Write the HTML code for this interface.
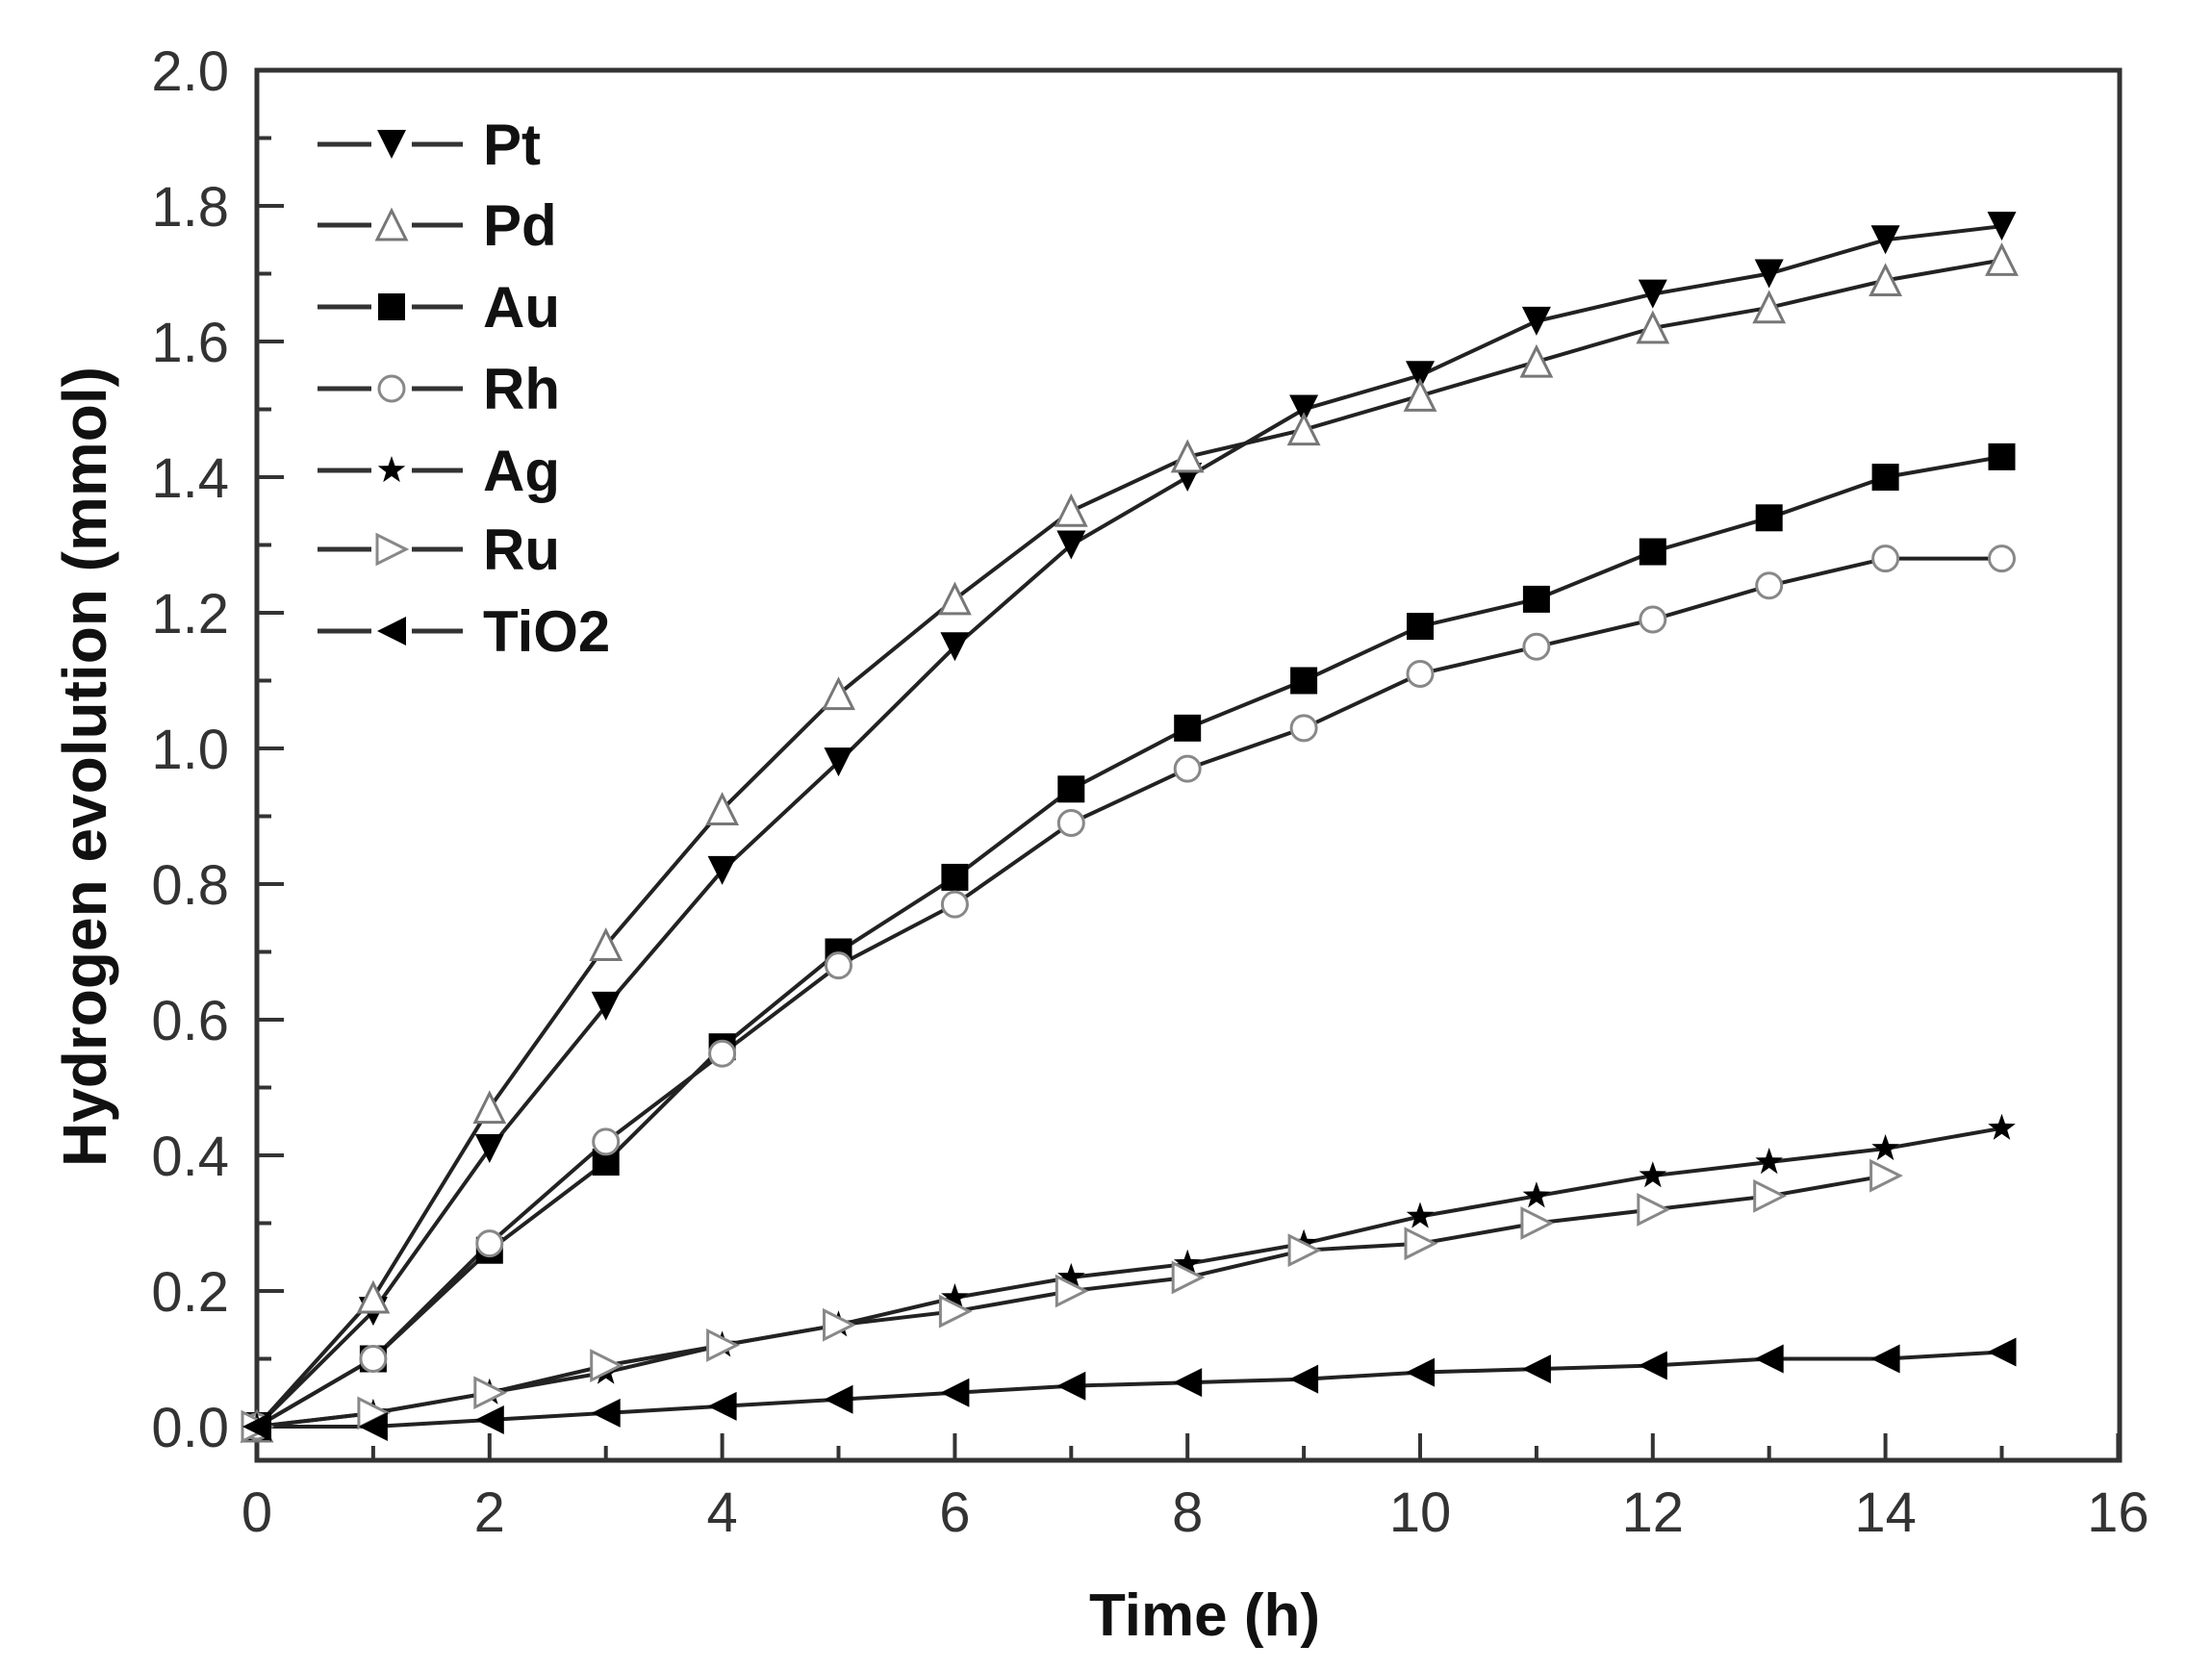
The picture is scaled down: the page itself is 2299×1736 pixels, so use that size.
<!DOCTYPE html>
<html><head><meta charset="utf-8"><style>
html,body{margin:0;padding:0;background:#fff;width:2299px;height:1736px;overflow:hidden}
svg{display:block}
</style></head><body>
<svg id="s" width="2299" height="1736" xmlns="http://www.w3.org/2000/svg" font-family="Liberation Sans, Arial, sans-serif">
<rect width="2299" height="1736" fill="#fff"/>
</svg>
<script>
const s=document.getElementById('s');const NS='http://www.w3.org/2000/svg';
function el(t,a,txt){const e=document.createElementNS(NS,t);for(const k in a)e.setAttribute(k,a[k]);if(txt!==undefined)e.textContent=txt;s.appendChild(e);return e;}
const X0=267,PX=120.9,Y0=1483,PY=705,TOP=73,BOT=1518,RIGHT=2203;
const X=v=>X0+v*PX,Y=v=>Y0-v*PY;
el('rect',{x:X0,y:TOP,width:RIGHT-X0,height:BOT-TOP,fill:'none',stroke:'#333',"stroke-width":5});
for(let i=0;i<=16;i++){const L=i%2==0?28:15;el('line',{x1:X(i),y1:BOT,x2:X(i),y2:BOT-L,stroke:'#333',"stroke-width":4});
 if(i%2==0)el('text',{x:X(i),y:1592,"font-size":58,"text-anchor":"middle",fill:'#333'},String(i));}
for(let i=0;i<=20;i++){const v=i*0.1;const L=i%2==0?28:15;el('line',{x1:X0,y1:Y(v),x2:X0+L,y2:Y(v),stroke:'#333',"stroke-width":4});
 if(i%2==0)el('text',{x:238,y:Y(v)+21,"font-size":58,"text-anchor":"end",fill:'#333'},v.toFixed(1));}
el('text',{x:1252,y:1700,"font-size":62,"font-weight":"bold","text-anchor":"middle",fill:'#111'},'Time (h)');
el('text',{transform:'translate(110,797) rotate(-90)',"font-size":64,"font-weight":"bold","text-anchor":"middle",fill:'#111'},'Hydrogen evolution (mmol)');
const D={
Pt:[0,0.17,0.41,0.62,0.82,0.98,1.15,1.30,1.40,1.50,1.55,1.63,1.67,1.70,1.75,1.77],
Pd:[0,0.19,0.47,0.71,0.91,1.08,1.22,1.35,1.43,1.47,1.52,1.57,1.62,1.65,1.69,1.72],
Au:[0,0.10,0.26,0.39,0.56,0.70,0.81,0.94,1.03,1.10,1.18,1.22,1.29,1.34,1.40,1.43],
Rh:[0,0.10,0.27,0.42,0.55,0.68,0.77,0.89,0.97,1.03,1.11,1.15,1.19,1.24,1.28,1.28],
Ag:[0,0.02,0.05,0.08,0.12,0.15,0.19,0.22,0.24,0.27,0.31,0.34,0.37,0.39,0.41,0.44],
Ru:[0,0.02,0.05,0.09,0.12,0.15,0.17,0.20,0.22,0.26,0.27,0.30,0.32,0.34,0.37],
TiO2:[0,0.00,0.01,0.02,0.03,0.04,0.05,0.06,0.065,0.07,0.08,0.085,0.09,0.10,0.10,0.11]};
function marker(type,x,y){const r=15;
 if(type=='Pt')el('polygon',{points:`${x-r},${y-r} ${x+r},${y-r} ${x},${y+r}`,fill:'#000'});
 if(type=='Pd')el('polygon',{points:`${x-r},${y+r} ${x+r},${y+r} ${x},${y-r}`,fill:'#fff',stroke:'#777',"stroke-width":3});
 if(type=='Au')el('rect',{x:x-14,y:y-14,width:28,height:28,fill:'#000'});
 if(type=='Rh')el('circle',{cx:x,cy:y,r:13,fill:'#fff',stroke:'#888',"stroke-width":3});
 if(type=='Ag'){let p=[];for(let k=0;k<10;k++){const a=-Math.PI/2+k*Math.PI/5,rr=k%2?6:15;p.push((x+rr*Math.cos(a)).toFixed(1)+','+(y+rr*Math.sin(a)).toFixed(1));}el('polygon',{points:p.join(' '),fill:'#000'});}
 if(type=='Ru')el('polygon',{points:`${x-r},${y-r} ${x-r},${y+r} ${x+r},${y}`,fill:'#fff',stroke:'#888',"stroke-width":3});
 if(type=='TiO2')el('polygon',{points:`${x+r},${y-r} ${x+r},${y+r} ${x-r},${y}`,fill:'#000'});
}
const names=Object.keys(D);
names.forEach(n=>{const pts=D[n].map((v,i)=>X(i).toFixed(1)+','+Y(v).toFixed(1)).join(' ');
 el('polyline',{points:pts,fill:'none',stroke:'#222',"stroke-width":4});});
names.forEach(n=>{D[n].forEach((v,i)=>marker(n,X(i),Y(v)));});
const ly=[150,234,319,404,489,571,656];
names.forEach((n,i)=>{const y=ly[i];
 el('line',{x1:330,y1:y,x2:386,y2:y,stroke:'#333',"stroke-width":5});
 el('line',{x1:428,y1:y,x2:481,y2:y,stroke:'#333',"stroke-width":5});
 marker(n,407,y);
 el('text',{x:502,y:y+21,"font-size":60,"font-weight":"bold",fill:'#111'},n);});
</script>
</body></html>
